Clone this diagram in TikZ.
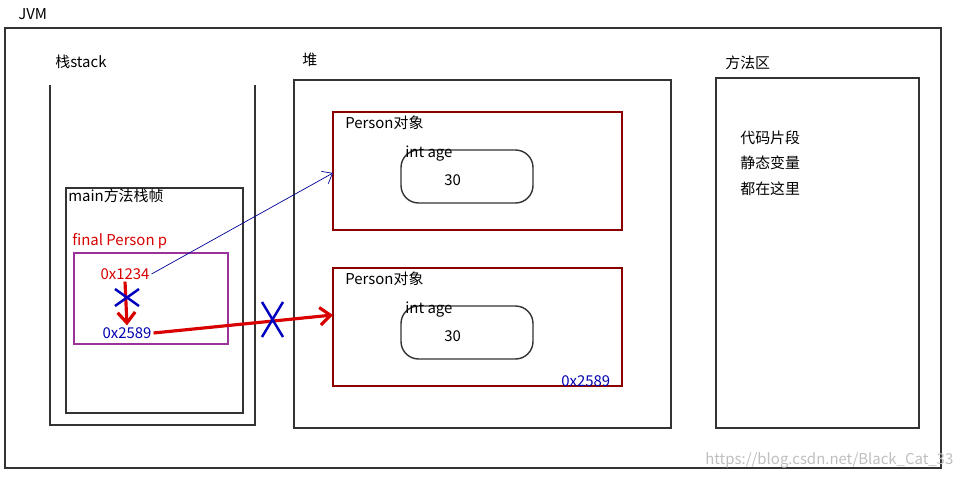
\documentclass[tikz,border=0pt]{standalone}
\usepackage{fontspec}
\setmainfont{Noto Sans CJK SC}
\usetikzlibrary{arrows.meta}
\begin{document}
\begin{tikzpicture}[x=0.02cm,y=-0.02cm,font=\fontsize{8.5}{9}\selectfont,
  lbl/.style={anchor=west,inner sep=0pt},
  box/.style={draw=black!80,thick},
  objbox/.style={draw=red!55!black,thick},
  cross/.style={draw=blue!75!black,thick},
  ref/.style={red!85!black,line width=1.8pt,-{Straight Barb[length=6pt,width=10pt]}}]
  \useasboundingbox[fill=white] (0,0) rectangle (969,479);
  % JVM
  \node[lbl] (jvm) at (18,14) {JVM};
  \draw[box] (5,28) rectangle (941,468);
  % stack
  \node[lbl] (stk) at (55,62) {栈stack};
  \draw[box] (50,85) -- (50,425) -- (255,425) -- (255,85);
  \draw[box] (66,188) rectangle (243,413);
  \node[lbl] (frame) at (68,196) {main方法栈帧};
  \node[lbl,text=red!85!black] (fp) at (72,241) {final Person p};
  \draw[draw=blue!50!red!80,thick] (74,253) rectangle (228,344);
  \node[text=red!85!black,inner sep=1pt] (a1) at (125,274) {0x1234};
  \node[text=blue!70!black,inner sep=1pt] (a2) at (127,333) {0x2589};
  % heap
  \node[lbl] (heap) at (302,60) {堆};
  \draw[box] (294,80) rectangle (671,428);
  \foreach \y/\n in {112/1,268/2}{
    \draw[objbox] (333,\y) rectangle (622,\y+118);
    \node[lbl] (obj\n) at (345,\y+11) {Person对象};
    \draw[box,rounded corners=10pt] (401,\y+38) rectangle (533,\y+91);
    \node[lbl] (age\n) at (405,\y+42) {int age};
    \node[lbl] (val\n) at (444,\y+68) {30};
  }
  \node[lbl,text=blue!70!black] (addr) at (561,381) {0x2589};
  \coordinate (t1) at (333,173);
  \coordinate (t2) at (333,315);
  % method area
  \node[lbl] (ma) at (725,63) {方法区};
  \draw[box] (716,78) rectangle (919,428);
  \node[lbl] (m1) at (740,138) {代码片段};
  \node[lbl] (m2) at (740,163) {静态变量};
  \node[lbl] (m3) at (740,189) {都在这里};
  % references
  \draw[-{Straight Barb[length=5pt,width=8pt]},blue!60!black] (a1.east) -- (t1);
  \draw[ref] (a1.south) -- (a2.north);
  \draw[ref] (a2.east) -- (t2);
  \draw[cross,line width=1.4pt] (115,289) -- (139,306) (115,306) -- (139,289);
  \draw[cross,line width=1.4pt] (262,302) -- (283,337) (283,302) -- (262,337);
  \node[lbl,text=black!25] (wm) at (705,460) {https://blog.csdn.net/Black\_Cat\_33};
\end{tikzpicture}
\end{document}
